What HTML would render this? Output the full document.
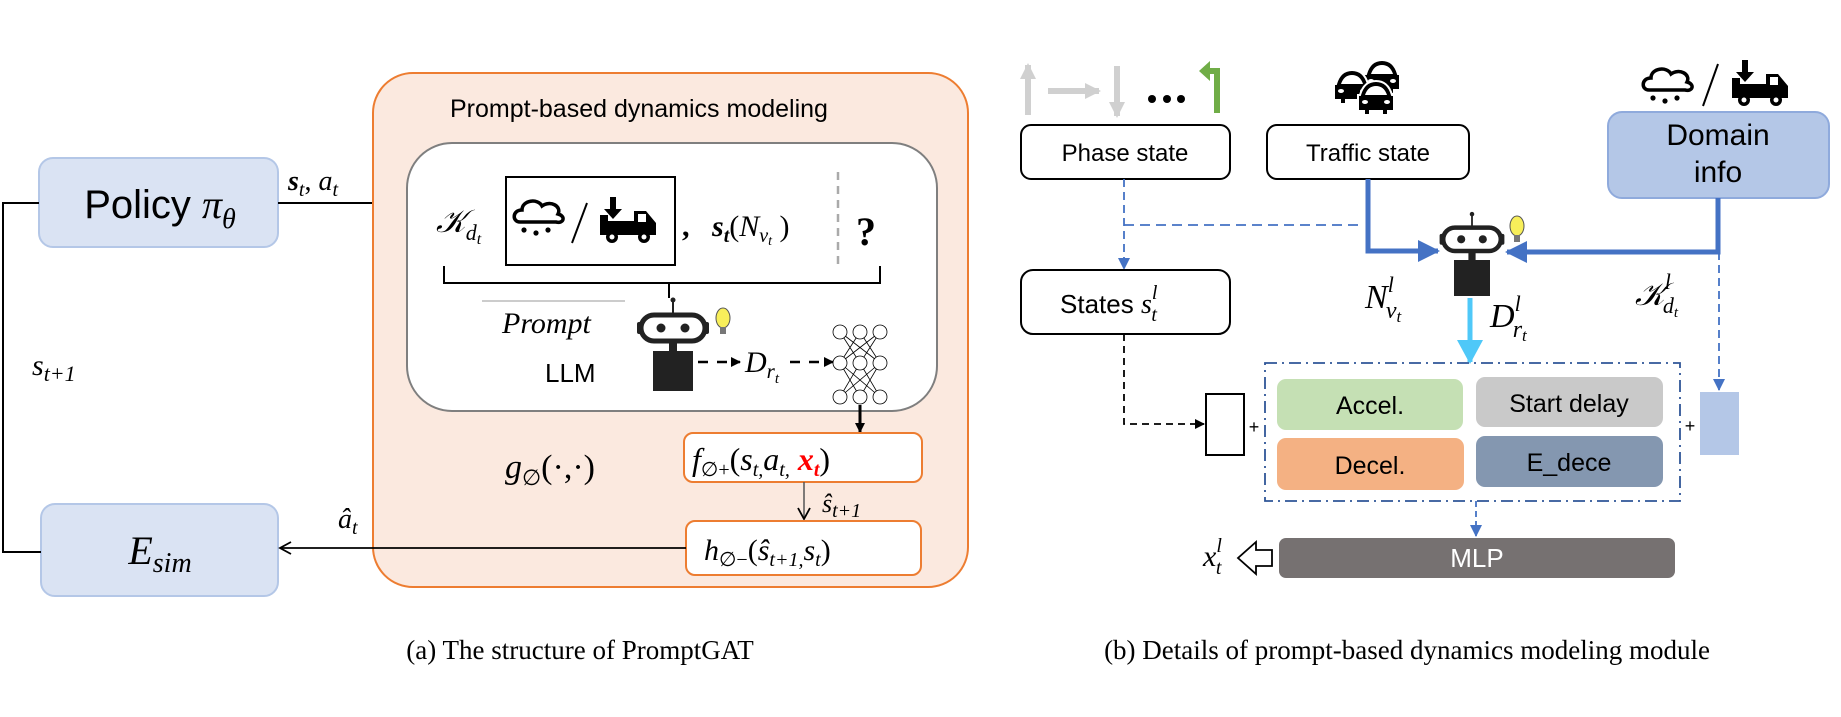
<!DOCTYPE html>
<html><head><meta charset="utf-8"><style>
html,body{margin:0;padding:0;background:#fff;}
svg{display:block;}
.s{font-family:"Liberation Sans",sans-serif;}
.m{font-family:"Liberation Serif",serif;font-style:italic;}
.r{font-family:"Liberation Serif",serif;}
</style></head><body>
<svg width="1841" height="717" viewBox="0 0 1841 717" xmlns="http://www.w3.org/2000/svg">
<defs>
<marker id="ab" markerWidth="10" markerHeight="10" refX="9" refY="5" orient="auto" markerUnits="userSpaceOnUse"><path d="M0,0 L10,5 L0,10 z" fill="#000"/></marker>
<marker id="ao" markerWidth="14" markerHeight="14" refX="12" refY="7" orient="auto" markerUnits="userSpaceOnUse"><path d="M1,1 L12,7 L1,13" fill="none" stroke="#000" stroke-width="1.8"/></marker>
<marker id="abl" markerWidth="12" markerHeight="12" refX="11" refY="6" orient="auto" markerUnits="userSpaceOnUse"><path d="M0,0 L12,6 L0,12 z" fill="#4472c4"/></marker>
<marker id="abig" markerWidth="22" markerHeight="22" refX="20" refY="11" orient="auto" markerUnits="userSpaceOnUse"><path d="M0,0 L22,11 L0,22 z" fill="#4472c4"/></marker>
<marker id="acy" markerWidth="26" markerHeight="26" refX="22" refY="13" orient="auto" markerUnits="userSpaceOnUse"><path d="M0,0 L24,13 L0,26 z" fill="#4fc8f8"/></marker>
<marker id="agr" markerWidth="16" markerHeight="16" refX="14" refY="8" orient="auto" markerUnits="userSpaceOnUse"><path d="M0,0 L16,8 L0,16 z" fill="#d0d0d0"/></marker>
<g id="robot">
<line x1="0" y1="-10" x2="0" y2="4" stroke="#222" stroke-width="2"/><circle cx="0" cy="-11" r="2.5" fill="#222"/>
<rect x="-32" y="4" width="64" height="26" rx="13" fill="#fff" stroke="#222" stroke-width="5"/>
<rect x="-36" y="11" width="5" height="12" rx="2" fill="#222"/><rect x="31" y="11" width="5" height="12" rx="2" fill="#222"/>
<circle cx="-12" cy="17" r="4.5" fill="#222"/><circle cx="12" cy="17" r="4.5" fill="#222"/>
<rect x="-4" y="30" width="8" height="10" fill="#222"/>
<rect x="-20" y="40" width="40" height="40" fill="#222"/>
</g>
<g id="bulb"><ellipse cx="0" cy="0" rx="7" ry="10" fill="#f8ef5a" stroke="#555" stroke-width="1"/><rect x="-3" y="9" width="6" height="7" fill="#777"/></g>
<g id="cloud"><path d="M4,22 C-4,22 -4,10 6,10 C6,0 22,-2 26,6 C34,0 46,6 42,14 C50,16 48,24 40,22 Z" fill="none" stroke="#000" stroke-width="3.5"/><circle cx="8" cy="30" r="2.6" fill="#000"/><circle cx="20" cy="33" r="2.6" fill="#000"/><circle cx="32" cy="30" r="2.6" fill="#000"/></g>
<g id="truck"><path d="M10,0 L10,12 L4,12 L13,22 L22,12 L16,12 L16,0 Z" fill="#000"/><rect x="0" y="18" width="8" height="16" fill="#000"/><rect x="0" y="24" width="34" height="14" fill="#000"/><path d="M34,14 L46,14 L56,26 L56,38 L34,38 Z" fill="#000"/><rect x="38" y="17" width="8" height="8" fill="#fff"/><circle cx="12" cy="40" r="6" fill="#000"/><circle cx="12" cy="40" r="2.5" fill="#fff"/><circle cx="44" cy="40" r="6" fill="#000"/><circle cx="44" cy="40" r="2.5" fill="#fff"/></g>
<g id="car"><path d="M4,14 Q8,0 20,0 Q32,0 36,14 L38,14 L38,30 L32,30 L32,34 L26,34 L26,30 L14,30 L14,34 L8,34 L8,30 L2,30 L2,14 Z" fill="#000" stroke="#fff" stroke-width="2"/><path d="M9,14 Q12,5 20,5 Q28,5 31,14 Z" fill="#fff"/><ellipse cx="9" cy="21" rx="3" ry="2" fill="#fff"/><ellipse cx="31" cy="21" rx="3" ry="2" fill="#fff"/></g>
</defs>

<!-- LEFT (a) -->
<rect x="39" y="158" width="239" height="89" rx="14" fill="#dae3f3" stroke="#b4c7e7" stroke-width="2"/>
<text x="160" y="218" text-anchor="middle" class="s" font-size="40">Policy <tspan class="m" font-size="40">π</tspan><tspan class="m" font-size="28" dy="10">θ</tspan></text>
<rect x="41" y="504" width="237" height="92" rx="14" fill="#dae3f3" stroke="#b4c7e7" stroke-width="2"/>
<text x="160" y="564" text-anchor="middle" class="m" font-size="40">E<tspan font-size="28" dy="8">sim</tspan></text>
<polyline points="39,203 3,203 3,552 41,552" fill="none" stroke="#000" stroke-width="2"/>
<text x="32" y="375" class="m" font-size="30">s<tspan font-size="22" dy="6">t+1</tspan></text>
<line x1="278" y1="203" x2="392" y2="203" stroke="#000" stroke-width="2" marker-end="url(#ao)"/>
<text x="288" y="190" class="r" font-size="28"><tspan font-weight="bold" font-style="italic">s</tspan><tspan font-size="20" dy="6" font-style="italic">t</tspan><tspan dy="-6">, </tspan><tspan font-style="italic">a</tspan><tspan font-size="20" dy="6" font-style="italic">t</tspan></text>

<rect x="373" y="73" width="595" height="514" rx="40" fill="#fbe9df" stroke="#ed7d31" stroke-width="2"/>
<text x="450" y="117" class="s" font-size="25">Prompt-based dynamics modeling</text>
<rect x="407" y="143" width="530" height="268" rx="45" fill="#fff" stroke="#7f7f7f" stroke-width="2"/>
<text x="436" y="232" class="m" font-size="32">𝒦<tspan font-size="22" dy="8">d</tspan><tspan font-size="16" dy="4">t</tspan></text>
<rect x="506" y="177" width="169" height="88" fill="#fff" stroke="#000" stroke-width="2"/>
<use href="#cloud" x="516" y="200"/>
<line x1="572" y1="243" x2="587" y2="203" stroke="#000" stroke-width="2"/>
<use href="#truck" x="600" y="197"/>
<text x="682" y="236" class="r" font-size="30" font-weight="bold">,</text>
<text x="712" y="236" class="r" font-size="30"><tspan font-weight="bold" font-style="italic">s</tspan><tspan font-size="20" dy="6" font-weight="bold" font-style="italic">t</tspan><tspan dy="-6">(</tspan><tspan font-style="italic">N</tspan><tspan font-size="20" dy="6" font-style="italic">v</tspan><tspan font-size="14" dy="3" font-style="italic">t</tspan><tspan dy="-9"> )</tspan></text>
<line x1="838" y1="172" x2="838" y2="268" stroke="#aaa" stroke-width="2.5" stroke-dasharray="8,6"/>
<text x="856" y="245" class="r" font-size="40" font-weight="bold">?</text>
<polyline points="444,266 444,283 880,283 880,266" fill="none" stroke="#000" stroke-width="2"/>
<line x1="669" y1="283" x2="669" y2="298" stroke="#000" stroke-width="2"/>
<line x1="482" y1="301" x2="625" y2="301" stroke="#999" stroke-width="1"/>
<text x="502" y="333" class="m" font-size="30">Prompt</text>
<text x="545" y="382" class="s" font-size="26">LLM</text>
<g transform="translate(673,311) scale(1.0)"><use href="#robot"/></g>
<use href="#bulb" x="723" y="318"/>
<line x1="698" y1="362" x2="740" y2="362" stroke="#000" stroke-width="2.5" stroke-dasharray="10,9" marker-end="url(#ab)"/>
<text x="745" y="372" class="m" font-size="30">D<tspan font-size="21" dy="6">r</tspan><tspan font-size="15" dy="5">t</tspan></text>
<line x1="790" y1="362" x2="833" y2="362" stroke="#000" stroke-width="2.5" stroke-dasharray="10,9" marker-end="url(#ab)"/>
<g stroke="#000" stroke-width="0.8" fill="#fff">
<line x1="840" y1="332" x2="880" y2="363"/><line x1="880" y1="332" x2="840" y2="363"/><line x1="860" y1="332" x2="840" y2="363"/><line x1="860" y1="332" x2="880" y2="363"/><line x1="840" y1="332" x2="860" y2="363"/><line x1="880" y1="332" x2="860" y2="363"/>
<line x1="840" y1="363" x2="880" y2="397"/><line x1="880" y1="363" x2="840" y2="397"/><line x1="860" y1="363" x2="840" y2="397"/><line x1="860" y1="363" x2="880" y2="397"/><line x1="840" y1="363" x2="860" y2="397"/><line x1="880" y1="363" x2="860" y2="397"/>
<circle cx="840" cy="332" r="7"/><circle cx="860" cy="332" r="7"/><circle cx="880" cy="332" r="7"/>
<circle cx="840" cy="363" r="7"/><circle cx="860" cy="363" r="7"/><circle cx="880" cy="363" r="7"/>
<circle cx="840" cy="397" r="7"/><circle cx="860" cy="397" r="7"/><circle cx="880" cy="397" r="7"/>
</g>
<line x1="860" y1="405" x2="860" y2="432" stroke="#000" stroke-width="3" marker-end="url(#ab)"/>
<text x="505" y="478" class="m" font-size="34">g<tspan font-size="22" dy="7" font-style="normal">∅</tspan><tspan dy="-7" font-style="normal">(·,·)</tspan></text>
<rect x="684" y="433" width="238" height="49" rx="9" fill="#fff" stroke="#ed7d31" stroke-width="2"/>
<text x="692" y="470" class="m" font-size="32">f<tspan font-size="20" dy="6" font-style="normal">∅+</tspan><tspan dy="-6" font-style="normal">(</tspan>s<tspan font-size="20" dy="6">t,</tspan><tspan dy="-6">a</tspan><tspan font-size="20" dy="6">t,</tspan><tspan dy="-6" fill="#f00" font-weight="bold"> x</tspan><tspan font-size="20" dy="6" fill="#f00" font-weight="bold">t</tspan><tspan dy="-6" font-style="normal">)</tspan></text>
<line x1="804" y1="482" x2="804" y2="519" stroke="#555" stroke-width="1.5" marker-end="url(#ao)"/>
<text x="822" y="512" class="m" font-size="26">ŝ<tspan font-size="20" dy="5">t+1</tspan></text>
<rect x="686" y="521" width="235" height="54" rx="9" fill="#fff" stroke="#ed7d31" stroke-width="2"/>
<text x="704" y="560" class="m" font-size="30">h<tspan font-size="20" dy="6" font-style="normal">∅−</tspan><tspan dy="-6" font-style="normal">(</tspan>ŝ<tspan font-size="20" dy="6">t+1,</tspan><tspan dy="-6">s</tspan><tspan font-size="20" dy="6">t</tspan><tspan dy="-6" font-style="normal">)</tspan></text>
<line x1="686" y1="548" x2="280" y2="548" stroke="#000" stroke-width="1.8" marker-end="url(#ao)"/>
<text x="338" y="528" class="m" font-size="28">â<tspan font-size="20" dy="6">t</tspan></text>

<text x="580" y="659" text-anchor="middle" class="r" font-size="27">(a) The structure of PromptGAT</text>

<!-- RIGHT (b) -->
<line x1="1028" y1="115" x2="1028" y2="65" stroke="#d0d0d0" stroke-width="6" marker-end="url(#agr)"/>
<line x1="1048" y1="91" x2="1099" y2="91" stroke="#d0d0d0" stroke-width="6" marker-end="url(#agr)"/>
<line x1="1117" y1="66" x2="1117" y2="116" stroke="#d0d0d0" stroke-width="6" marker-end="url(#agr)"/>
<circle cx="1152" cy="99" r="4" fill="#000"/><circle cx="1167" cy="99" r="4" fill="#000"/><circle cx="1181" cy="99" r="4" fill="#000"/>
<polyline points="1217,113 1217,71 1208,71" fill="none" stroke="#70ad47" stroke-width="6"/>
<path d="M1199,71 L1210,61 L1210,81 Z" fill="#70ad47"/>
<rect x="1021" y="125" width="209" height="54" rx="10" fill="#fff" stroke="#000" stroke-width="2"/>
<text x="1125" y="161" text-anchor="middle" class="s" font-size="24">Phase state</text>
<rect x="1267" y="125" width="202" height="54" rx="10" fill="#fff" stroke="#000" stroke-width="2"/>
<text x="1368" y="161" text-anchor="middle" class="s" font-size="24">Traffic state</text>
<use href="#car" x="1362" y="60"/>
<use href="#car" x="1332" y="70"/>
<use href="#car" x="1356" y="81"/>
<line x1="1124" y1="179" x2="1124" y2="269" stroke="#4472c4" stroke-width="1.8" stroke-dasharray="8,5" marker-end="url(#abl)"/>
<line x1="1124" y1="225" x2="1363" y2="225" stroke="#4472c4" stroke-width="1.8" stroke-dasharray="10,6"/>
<polyline points="1368,179 1368,251 1438,251" fill="none" stroke="#4472c4" stroke-width="5" marker-end="url(#abig)"/>
<g transform="translate(1472,224) scale(0.9)"><use href="#robot"/></g>
<use href="#bulb" x="1517" y="226"/>
<text x="1365" y="308" class="m" font-size="34">N<tspan font-size="22" dy="-16">l</tspan><tspan font-size="24" dx="-8" dy="26">v</tspan><tspan font-size="17" dy="4">t</tspan></text>
<line x1="1470" y1="298" x2="1470" y2="362" stroke="#4fc8f8" stroke-width="5" marker-end="url(#acy)"/>
<text x="1490" y="327" class="m" font-size="34">D<tspan font-size="22" dy="-16">l</tspan><tspan font-size="24" dx="-8" dy="26">r</tspan><tspan font-size="17" dy="4">t</tspan></text>
<rect x="1021" y="270" width="209" height="64" rx="12" fill="#fff" stroke="#000" stroke-width="2"/>
<text x="1060" y="313" class="s" font-size="26">States <tspan class="m" font-size="28">s</tspan><tspan class="m" font-size="20" dy="-14">l</tspan><tspan class="m" font-size="20" dx="-6" dy="22">t</tspan></text>
<polyline points="1124,334 1124,424 1204,424" fill="none" stroke="#000" stroke-width="1.8" stroke-dasharray="7,5" marker-end="url(#ab)"/>
<rect x="1206" y="394" width="38" height="61" fill="#fff" stroke="#000" stroke-width="2"/>
<text x="1254" y="433" text-anchor="middle" class="s" font-size="18">+</text>
<rect x="1265" y="363" width="415" height="138" fill="none" stroke="#2f5597" stroke-width="1.8" stroke-dasharray="12,5,2,5"/>
<rect x="1277" y="379" width="186" height="51" rx="9" fill="#c5e0b4"/>
<text x="1370" y="414" text-anchor="middle" class="s" font-size="25">Accel.</text>
<rect x="1476" y="377" width="187" height="50" rx="9" fill="#c9c9c9"/>
<text x="1569" y="412" text-anchor="middle" class="s" font-size="25">Start delay</text>
<rect x="1277" y="438" width="187" height="52" rx="9" fill="#f4b183"/>
<text x="1370" y="474" text-anchor="middle" class="s" font-size="25">Decel.</text>
<rect x="1476" y="436" width="187" height="51" rx="9" fill="#8497b0"/>
<text x="1569" y="471" text-anchor="middle" class="s" font-size="25">E_dece</text>
<text x="1690" y="432" text-anchor="middle" class="s" font-size="18">+</text>
<rect x="1700" y="392" width="39" height="63" fill="#b4c7e7"/>
<line x1="1719" y1="252" x2="1719" y2="390" stroke="#4472c4" stroke-width="1.8" stroke-dasharray="8,5" marker-end="url(#abl)"/>
<rect x="1608" y="112" width="221" height="86" rx="14" fill="#b4c7e7" stroke="#8faadc" stroke-width="2"/>
<text x="1718" y="145" text-anchor="middle" class="s" font-size="30">Domain</text>
<text x="1718" y="182" text-anchor="middle" class="s" font-size="30">info</text>
<use href="#cloud" x="1645" y="68"/>
<line x1="1703" y1="106" x2="1718" y2="64" stroke="#000" stroke-width="2"/>
<use href="#truck" x="1732" y="60"/>
<polyline points="1718,198 1718,252 1507,252" fill="none" stroke="#4472c4" stroke-width="5" marker-end="url(#abig)"/>
<text x="1635" y="305" class="m" font-size="32">𝒦<tspan font-size="22" dy="-16">l</tspan><tspan font-size="22" dx="-8" dy="24">d</tspan><tspan font-size="15" dy="4">t</tspan></text>
<line x1="1476" y1="501" x2="1476" y2="536" stroke="#4472c4" stroke-width="1.8" stroke-dasharray="6,4" marker-end="url(#abl)"/>
<rect x="1279" y="538" width="396" height="40" rx="7" fill="#767171"/>
<text x="1477" y="567" text-anchor="middle" class="s" font-size="26" fill="#fff">MLP</text>
<path d="M1272,550 L1256,550 L1256,542 L1238,558 L1256,574 L1256,566 L1272,566 Z" fill="#fff" stroke="#000" stroke-width="1.8"/>
<text x="1203" y="566" class="m" font-size="30">x<tspan font-size="20" dy="-14">l</tspan><tspan font-size="20" dx="-6" dy="22">t</tspan></text>

<text x="1407" y="659" text-anchor="middle" class="r" font-size="27">(b) Details of prompt-based dynamics modeling module</text>
</svg>
</body></html>
